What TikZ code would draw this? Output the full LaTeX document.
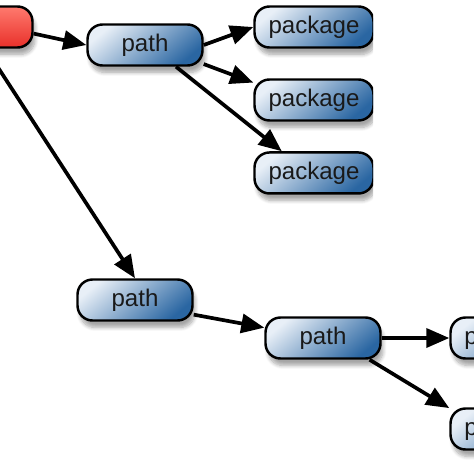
\documentclass[tikz,border=0pt]{standalone}
\usepackage{fontspec}
\setmainfont{Liberation Sans}
\usepackage{tikz}
\usetikzlibrary{positioning,arrows.meta,shadows.blur}

\definecolor{boxlight}{HTML}{E8EFF7}
\definecolor{boxdark}{HTML}{2A66A2}
\definecolor{rootlight}{HTML}{FF7A6E}
\definecolor{rootdark}{HTML}{E8302A}

\tikzset{
  pkgbox/.style={draw=black,line width=1.4pt,rounded corners=0.3cm,
    minimum width=2.38cm,minimum height=0.82cm,inner sep=0pt,
    top color=boxlight,bottom color=boxdark,shading angle=40,
    blur shadow={shadow xshift=0.05cm,shadow yshift=-0.14cm,shadow opacity=35,shadow blur steps=8},
    font=\fontsize{13.7}{16}\selectfont,text=black!90},
  pathbox/.style={pkgbox,minimum width=2.3cm},
  rootbox/.style={pkgbox,minimum width=2.1cm,top color=rootlight,bottom color=rootdark},
  dep/.style={line width=2.1pt,-{Triangle[length=0.46cm,width=0.38cm]}}
}

\begin{document}
\begin{tikzpicture}[x=0.02cm,y=-0.02cm,node distance=1.46cm]
  \useasboundingbox (0,0) rectangle (474,474);
  \begin{scope}
    \clip (0,0) -- (373,0) -- (373,225) -- (474,225) -- (474,474) -- (0,474) -- cycle;
    \node[rootbox](root) at (-20,27) {};
    \node[pathbox](pa) at (145,45) {path};
    \node[pkgbox](pka) at (314,27) {package};
    \node[pkgbox](pkb) [below of =pka] {package};
    \node[pkgbox](pkc) [below of =pkb] {package};
    \node[pathbox](pb) at (135,300) {path};
    \node[pathbox](pc) at (323,338) {path};
    \node[pkgbox](pkd) at (510,338) {package};
    \node[pkgbox](pke) at (510,429) {package};
    \draw[dep](root.-7) -- (pa.west);
    \draw[dep](root.-75) -- (pb.north);
    \draw[dep](pa.east) -- (pka.west);
    \draw[dep](pa.-18) -- (pkb.164);
    \draw[dep](pa.-35) -- (pkc.146);
    \draw[dep](pb.-14) -- (pc.170);
    \draw[dep](pc.east) -- (pkd.west);
    \draw[dep](pc.-25) -- (pke.161);
  \end{scope}
\end{tikzpicture}
\end{document}
